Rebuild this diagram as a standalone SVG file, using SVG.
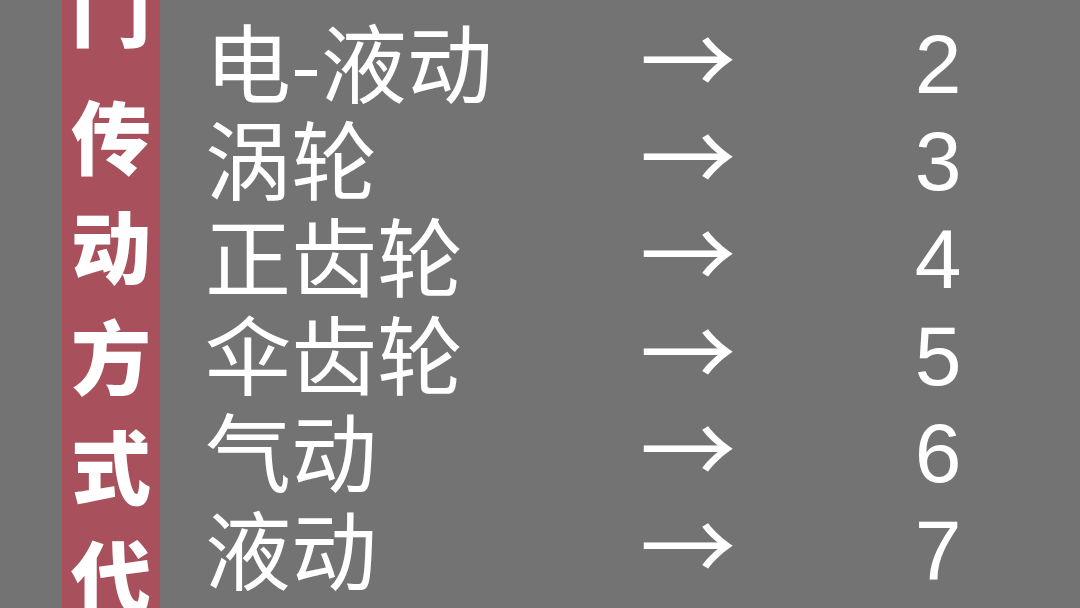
<svg xmlns="http://www.w3.org/2000/svg" width="1080" height="608" viewBox="0 0 1080 608">
<style>
.t{font-family:"Noto Sans CJK SC","Liberation Sans",sans-serif;fill:#fff;font-size:86px}
.a{font-family:"Noto Sans CJK SC","Liberation Sans",sans-serif;fill:#fff;font-size:96px}
.v{font-family:"Noto Sans CJK SC",sans-serif;fill:#fff;font-size:80px;font-weight:900;text-anchor:middle}
.n{font-family:"Liberation Sans",sans-serif;fill:#fff;font-size:84px;text-anchor:middle}
</style>
<rect width="1080" height="608" fill="#737373"/>
<rect x="62" y="0" width="98" height="608" fill="#a8505b"/>
<g id="side">
<text class="v" x="111" y="40">门</text>
<text class="v" x="111" y="168">传</text>
<text class="v" x="111" y="278">动</text>
<text class="v" x="111" y="388">方</text>
<text class="v" x="111" y="498">式</text>
<text class="v" x="111" y="608">代</text>
</g>
<g id="rows">
<text class="t" x="205" y="97">电-液动</text><text class="a" x="640" y="96">→</text><text class="n" x="938" y="93">2</text>
<text class="t" x="205" y="194">涡轮</text><text class="a" x="640" y="193">→</text><text class="n" x="938" y="190">3</text>
<text class="t" x="205" y="291">正齿轮</text><text class="a" x="640" y="290">→</text><text class="n" x="938" y="288">4</text>
<text class="t" x="205" y="389">伞齿轮</text><text class="a" x="640" y="388">→</text><text class="n" x="938" y="385">5</text>
<text class="t" x="205" y="486">气动</text><text class="a" x="640" y="485">→</text><text class="n" x="938" y="482">6</text>
<text class="t" x="205" y="584">液动</text><text class="a" x="640" y="582">→</text><text class="n" x="938" y="579">7</text>
</g>
</svg>
